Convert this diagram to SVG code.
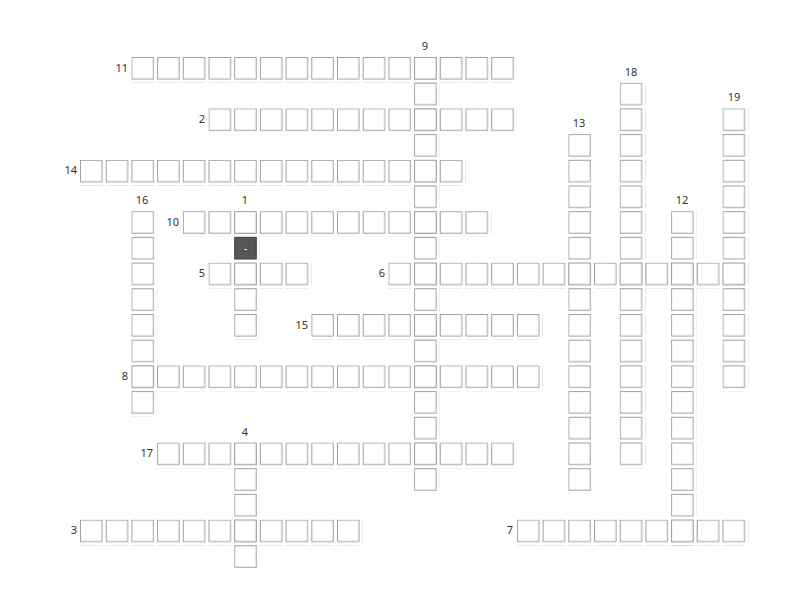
<svg xmlns="http://www.w3.org/2000/svg" width="800" height="600" viewBox="0 0 800 600">
<defs>
<pattern id="cell" patternUnits="userSpaceOnUse" x="80" y="57" width="25.7" height="25.7">
<rect x="0.5" y="0.5" width="21.5" height="21.5" fill="#fff" stroke="#a0a0a0" stroke-width="1"/>
</pattern>
</defs>
<style>
.w{fill:url(#cell)}
text{font-family:"Noto Sans","DejaVu Sans",sans-serif;font-size:11px;fill:#333}
.a{text-anchor:end}
.d{text-anchor:middle}
</style>
<rect width="800" height="600" fill="#fff"/>
<g id="w11"><rect class="w" x="131.4" y="57" width="385.5" height="25.7"/><text class="a" x="128" y="72">11</text></g>
<g id="w2"><rect class="w" x="208.5" y="108.4" width="308.4" height="25.7"/><text class="a" x="205" y="123">2</text></g>
<g id="w14"><rect class="w" x="80" y="159.8" width="385.5" height="25.7"/><text class="a" x="77" y="174">14</text></g>
<g id="w10"><rect class="w" x="182.8" y="211.2" width="308.4" height="25.7"/><text class="a" x="179" y="226">10</text></g>
<g id="w5"><rect class="w" x="208.5" y="262.6" width="102.8" height="25.7"/><text class="a" x="205" y="277">5</text></g>
<g id="w6"><rect class="w" x="388.4" y="262.6" width="359.8" height="25.7"/><text class="a" x="385" y="277">6</text></g>
<g id="w15"><rect class="w" x="311.3" y="314" width="231.3" height="25.7"/><text class="a" x="308" y="329">15</text></g>
<g id="w8"><rect class="w" x="131.4" y="365.4" width="411.2" height="25.7"/><text class="a" x="128" y="380">8</text></g>
<g id="w17"><rect class="w" x="157.1" y="442.5" width="359.8" height="25.7"/><text class="a" x="153" y="457">17</text></g>
<g id="w3"><rect class="w" x="80" y="519.6" width="282.7" height="25.7"/><text class="a" x="77" y="534">3</text></g>
<g id="w7"><rect class="w" x="516.9" y="519.6" width="231.3" height="25.7"/><text class="a" x="513" y="534">7</text></g>
<g id="w9"><rect class="w" x="414.1" y="57" width="25.7" height="436.9"/><text class="d" x="425" y="50">9</text></g>
<g id="w16"><rect class="w" x="131.4" y="211.2" width="25.7" height="205.6"/><text class="d" x="142" y="204">16</text></g>
<g id="w1"><rect class="w" x="234.2" y="211.2" width="25.7" height="128.5"/><text class="d" x="245" y="204">1</text>
<rect x="234.7" y="237.4" width="21.5" height="21.5" fill="#555" stroke="#444"/><text class="d" x="245.5" y="252" style="fill:#fff">-</text></g>
<g id="w4"><rect class="w" x="234.2" y="442.5" width="25.7" height="128.5"/><text class="d" x="245" y="436">4</text></g>
<g id="w13"><rect class="w" x="568.3" y="134.1" width="25.7" height="359.8"/><text class="d" x="579" y="127">13</text></g>
<g id="w18"><rect class="w" x="619.7" y="82.7" width="25.7" height="385.5"/><text class="d" x="631" y="76">18</text></g>
<g id="w19"><rect class="w" x="722.5" y="108.4" width="25.7" height="282.7"/><text class="d" x="734" y="101">19</text></g>
<g id="w12"><rect class="w" x="671.1" y="211.2" width="25.7" height="334.1"/><text class="d" x="682" y="204">12</text></g>
<g id="connectors"/>
</svg>
